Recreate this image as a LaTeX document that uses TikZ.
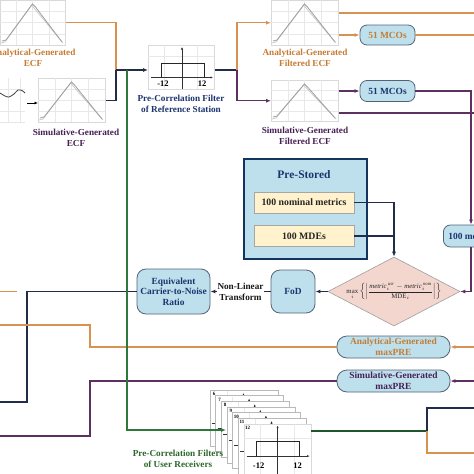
\documentclass[tikz,border=0pt]{standalone}
\usepackage{amsmath}
\usepackage{fontspec}
\setmainfont{Liberation Serif}
\usetikzlibrary{arrows.meta,shapes.geometric,calc}
\definecolor{orl}{RGB}{214,146,78}
\definecolor{ort}{RGB}{196,124,52}
\definecolor{pul}{RGB}{92,48,96}
\definecolor{put}{RGB}{70,32,84}
\definecolor{nvl}{RGB}{32,44,72}
\definecolor{nvt}{RGB}{28,52,110}
\definecolor{grl}{RGB}{46,120,60}
\definecolor{grt}{RGB}{44,104,44}
\definecolor{bfill}{RGB}{190,224,236}
\definecolor{bdraw}{RGB}{84,100,120}
\definecolor{psdraw}{RGB}{20,52,96}
\definecolor{yfill}{RGB}{255,242,204}
\definecolor{pfill}{RGB}{243,214,206}
\tikzset{
  lbl/.style={font=\bfseries\fontsize{9.2}{10.8}\selectfont,align=center,inner sep=0pt},
  chart/.style={draw=gray!30,fill=white,line width=0.5pt,inner sep=0pt},
  gridln/.style={draw=gray!18,line width=0.4pt},
  curveA/.style={draw=gray!75,line width=0.8pt},
  curveB/.style={draw=gray!40,line width=0.8pt},
  axisln/.style={draw=black!80,line width=0.6pt},
  axarr/.style={-{Latex[length=2.5pt,width=2.2pt]}},
  pulse/.style={draw=black!85,line width=0.9pt},
  conn/.style={line width=1.4pt},
  arr/.style={-{Latex[length=5pt,width=4pt]}},
  rbox/.style={draw=bdraw,fill=bfill,line width=0.8pt,rounded corners=7pt,inner sep=1.5pt,
    font=\bfseries\fontsize{9.4}{10.6}\selectfont,align=center},
  sheet/.style={draw=gray!55,fill=white,line width=0.5pt},
  numlbl/.style={font=\bfseries\fontsize{5}{5}\selectfont,inner sep=0pt},
  axlbl/.style={font=\bfseries\fontsize{8.5}{8.5}\selectfont,inner sep=0pt},
}
\newcommand\ecfchart[5]{%
  \node[chart,anchor=north west,minimum width=#4pt,minimum height=#5pt] (#1) at (#2,#3) {};
  \begin{scope}[shift={(#2,#3)}]
    \foreach \k in {1,2,3} {
      \draw[gridln] ({#4*\k/4},0) -- ({#4*\k/4},#5);
      \draw[gridln] (0,{#5*\k/4}) -- (#4,{#5*\k/4});
    }
    \draw[curveB] (1,{#5-2}) -- (5,{#5-3}) -- ({#4/2-1},5) -- ({#4-2},{#5-2});
    \draw[curveA] (2,{#5-4}) -- (6,{#5-5}) -- ({#4/2},4) -- ({#4/2+3},7) -- ({#4-3},{#5-3});
  \end{scope}}
\newcommand\filterchart[6]{%
  \node[chart,anchor=north west,minimum width=#4pt,minimum height=#5pt] (#1) at (#2,#3) {};
  \begin{scope}[shift={(#2,#3)}]
    \foreach \k in {1,3} {
      \draw[gridln] ({#4*\k/4},0) -- ({#4*\k/4},#5);
    }
    \draw[gridln] (0,{#5/4}) -- (#4,{#5/4});
    \draw[axisln,axarr] (34,#5) -- (34,2);
    \draw[axisln,axarr] (3,32.5) -- ({#4-1},32.5);
    \draw[pulse] (13,32.5) -- (13,18) -- (56,18) -- (56,32.5);
    \node[axlbl] (#1-m) at (15,#6) {-12};
    \node[axlbl] (#1-p) at (54,#6) {12};
  \end{scope}}
\begin{document}
\begin{tikzpicture}[x=1pt,y=-1pt]
\clip (0,0) rectangle (474,474);
\fill[white] (0,0) rectangle (474,474);

% ---------- left charts
\ecfchart{agecf}{0}{0}{65}{45}
\ecfchart{sgecf}{38}{78}{67}{44}
\draw[gridln] (8,78) -- (8,122);
\draw[gridln] (20,78) -- (20,122);
\draw[gridln] (0,89) -- (25,89);
\draw[gridln] (0,111) -- (25,111);
\draw[gray!20,line width=0.5pt] (0,122) -- (25,122);
\draw[black!75,line width=0.8pt] plot[smooth] coordinates {(0,93)(5,96)(9,97)(14,94)(18,90)(22,90.5)(25,93)};
\coordinate (wv) at (27,103);
\draw[line width=0.9pt,-{Latex[length=3.5pt,width=3pt]}] (wv) -- (wv -| sgecf.west);

\node[lbl,text=ort] (agecfl) at (33,57.5) {Analytical-Generated\\ECF};
\node[lbl,text=put] (sgecfl) at (76,137.5) {Simulative-Generated\\ECF};

% ---------- reference filter
\filterchart{refc}{148}{45}{66}{44}{39}
\node[lbl,text=nvt] (refl) at (181,103.5) {Pre-Correlation Filter\\of Reference Station};

% ---------- filtered charts
\ecfchart{agf}{271}{0}{67}{45}
\ecfchart{sgf}{271}{80}{67}{41}
\node[lbl,text=ort] (agfl) at (305,57.5) {Analytical-Generated\\Filtered ECF};
\node[lbl,text=put] (sgfl) at (305,135.5) {Simulative-Generated\\Filtered ECF};

\node[rbox,text=ort,minimum width=55pt,minimum height=20pt] (mco1) at (387.5,35) {51 MCOs};
\node[rbox,text=nvt,minimum width=55pt,minimum height=21pt] (mco2) at (387.5,91) {51 MCOs};
\node[rbox,text=nvt,anchor=west,minimum height=22pt,inner xsep=5pt] (m100) at (443,236) {100 metrics};

% ---------- pre-stored
\node[draw=psdraw,fill=bfill,line width=2pt,anchor=north west,minimum width=123pt,minimum height=100pt] (ps) at (243,158) {};
\node[font=\bfseries\fontsize{11.5}{12}\selectfont,text=nvt] (pst) at (304,175) {Pre-Stored};
\node[draw=gray!70,fill=yfill,line width=0.5pt,minimum width=100pt,minimum height=21pt,lbl,font=\bfseries\fontsize{9.8}{10}\selectfont,text=black!85] (nom) at (304,202.5) {100 nominal metrics};
\node[draw=gray!70,fill=yfill,line width=0.5pt,minimum width=100pt,minimum height=21pt,lbl,font=\bfseries\fontsize{9.8}{10}\selectfont,text=black!85] (mde) at (304,236) {100 MDEs};

% ---------- diamond, FoD, ECNR
\node[diamond,draw=gray!75,fill=pfill,line width=0.6pt,minimum width=132pt,minimum height=69pt,inner sep=0pt] (dia) at (394,291.5) {};
\node[font=\fontsize{6.8}{7}\selectfont,inner sep=0pt,text=black!85] (diat) at (dia.center)
  {$\max\limits_i\left\{\left|\displaystyle\frac{\mathit{metric}_i^{\,\mathit{usr}}-\mathit{metric}_i^{\,\mathit{nom}}}{\mathrm{MDE}_i}\right|\right\}$};
\node[rbox,text=nvt,minimum width=44pt,minimum height=43pt,rounded corners=9pt] (fod) at (293,291.5) {FoD};
\node[rbox,text=nvt,minimum width=73pt,minimum height=45pt,rounded corners=9pt,inner sep=0.5pt] (ecnr) at (173.5,291.5) {Equivalent\\Carrier-to-Noise\\Ratio};

% ---------- maxPRE boxes
\node[rbox,text=ort,minimum width=113pt,minimum height=22pt,rounded corners=10pt] (agmax) at (393.5,347) {Analytical-Generated\\maxPRE};
\node[rbox,text=put,minimum width=113pt,minimum height=22pt,rounded corners=10pt] (sgmax) at (393.5,381) {Simulative-Generated\\maxPRE};

% ---------- user receiver filter stack
\foreach \d/\n in {0/6,1/7,2/8,3/9,4/10,5/11} {
  \begin{scope}[shift={({210+5.6*\d},{390+5.6*\d})}]
    \draw[sheet] (0,0) rectangle (68,56);
    \draw[gridln] (17,1) -- (17,55);
    \draw[axisln,axarr] (33.5,55) -- (33.5,3);
    \draw[axisln] (2,33) -- (66,33);
    \draw[pulse] (12,33) -- (12,19) -- (56,19) -- (56,33);
    \node[numlbl] (s\n) at (4,4) {\n};
  \end{scope}
}
\filterchart{ucf}{243.6}{423.6}{67}{60}{42.5}
\node[numlbl] (s12) at (247.6,427.6) {12};
\node[lbl,text=grt] (ucl) at (178,458.5) {Pre-Correlation Filters\\of User Receivers};

% ---------- connectors
\coordinate (j1) at (116,70);
\coordinate (j2) at (237,70);
\coordinate (jg) at (127,70);
\draw[conn,orl] (agecf.east) -| (j1);
\draw[conn,nvl] (sgecf.east) -| (j1);
\draw[conn,nvl,arr] (j1) -- (j1 -| refc.west);
\draw[conn,nvl] (j2 -| refc.east) -- (j2);
\draw[conn,orl,arr] (j2) |- (agf.west);
\draw[conn,pul,arr] (j2) |- (sgf.west);

\coordinate (r1) at (474,13);
\draw[conn,orl] (r1 -| agf.east) -- (r1);
\draw[conn,orl,arr] (mco1.west -| agf.east) -- (mco1.west);
\coordinate (r2) at (474,35);
\draw[conn,orl] (mco1.east) -- (r2);
\draw[conn,pul,arr] (mco2.west -| sgf.east) -- (mco2.west);
\coordinate (c471) at (471,91);
\draw[conn,pul,arr] (mco2.east) -- (c471) -- (c471 |- m100.north);
\coordinate (r3) at (474,113);
\draw[conn,pul] (r3 -| sgf.east) -- (r3);
\draw[conn,pul,arr] (c471 |- m100.south) |- (dia.east);

\draw[conn,nvl,arr] (nom.east) -| (dia.north);
\draw[conn,nvl] (mde.east) -- (mde.east -| dia.north);
\draw[conn,nvl,arr] (dia.west) -- (fod.east);
\draw[conn,nvl,arr] (fod.west) -- node[lbl,fill=white,inner sep=0.6pt,text=black!90] (nlt) {Non-Linear\\Transform} (ecnr.east);

\coordinate (l1) at (27,402);
\coordinate (l1e) at (0,402);
\draw[conn,nvl] (ecnr.west) -| (l1) -- (l1e);
\coordinate (l0) at (0,291.5);
\coordinate (l0b) at (17,291.5);
\draw[conn,orl] (l0) -- (l0b);

\coordinate (o1) at (90,325);
\coordinate (o1e) at (0,325);
\coordinate (r4) at (474,347);
\draw[conn,orl,arr] (r4) -- (agmax.east);
\draw[conn,orl] (agmax.west) -| (o1) -- (o1e);

\coordinate (p1) at (90,436);
\coordinate (p1e) at (0,436);
\coordinate (r5) at (474,381);
\draw[conn,pul,arr] (r5) -- (sgmax.east);
\draw[conn,pul] (sgmax.west) -| (p1) -- (p1e);

\coordinate (gin) at (226,430);
\draw[conn,grl,arr] (jg) |- (gin);

\coordinate (j3) at (427,431);
\coordinate (r6) at (474,408);
\coordinate (r7) at (474,453);
\draw[conn,grl!70!black] (j3 -| ucf.east) -- (j3);
\draw[conn,nvl] (j3) |- (r6);
\draw[conn,orl] (j3) |- (r7);
\end{tikzpicture}
\end{document}
